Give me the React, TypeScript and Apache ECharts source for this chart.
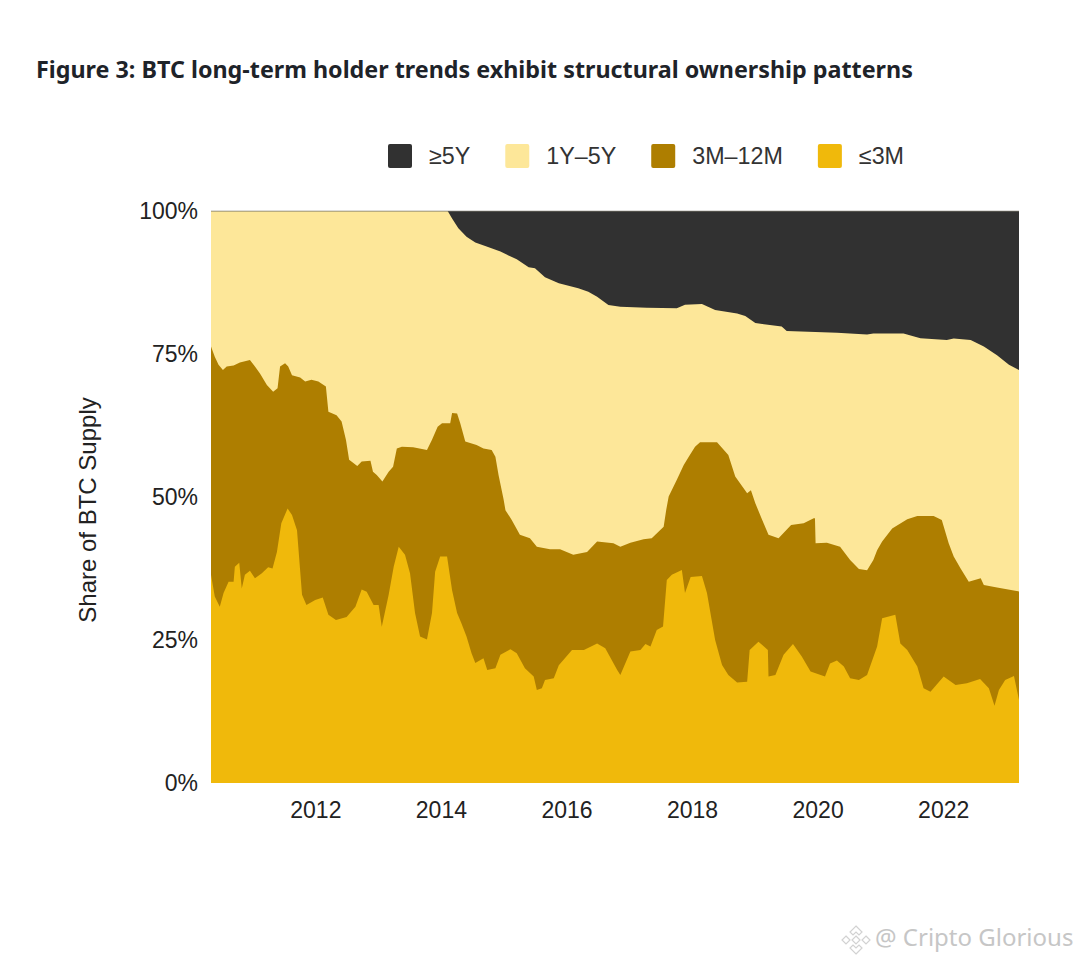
import React, { useEffect, useRef } from "react";
import * as echarts from "echarts";

const titleText = "Figure 3: BTC long-term holder trends exhibit structural ownership patterns";
const watermarkText = "@ Cripto Glorious";
const yAxisName = "Share of BTC Supply";
const seriesNames = ["≥5Y", "1Y–5Y", "3M–12M", "≤3M"];
const seriesColors = ["#313131", "#FDE799", "#AE7E00", "#F0B90B"];
const yearTicks = [2012, 2014, 2016, 2018, 2020, 2022];
const startYear = 2010.33;
const endYear = 2023.2;

// Cumulative top edge of each band: [year, % of supply]
const topOver5Y: number[][] = [[2010.33, 100], [2023.2, 100]];

const top1Y5Y: number[][] = [
  [2010.33, 100], [2014.1, 100], [2014.17, 98.7], [2014.27, 97.0], [2014.4, 95.5], [2014.54, 94.5],
  [2014.72, 93.8], [2014.94, 92.9], [2015.2, 91.55], [2015.39, 90.15], [2015.49, 90.0], [2015.65, 88.4],
  [2015.87, 87.35], [2016.18, 86.5], [2016.34, 85.9], [2016.48, 85.0], [2016.66, 83.55], [2016.85, 83.25],
  [2017.27, 83.1], [2017.75, 83.0], [2017.88, 83.6], [2018.15, 83.75], [2018.36, 82.7], [2018.71, 82.1],
  [2018.84, 81.65], [2019.0, 80.4], [2019.42, 79.8], [2019.5, 79.0], [2020.3, 78.7], [2020.78, 78.4],
  [2020.88, 78.6], [2021.36, 78.6], [2021.63, 77.75], [2022.05, 77.45], [2022.16, 77.7], [2022.43, 77.45],
  [2022.64, 76.3], [2022.85, 74.8], [2023.04, 73.1], [2023.2, 72.2],
];

const top3M12M: number[][] = [
  [2010.33, 76.3], [2010.39, 74.5], [2010.45, 73.1], [2010.52, 72.2], [2010.58, 72.8], [2010.69, 73.0],
  [2010.79, 73.5], [2010.95, 73.95], [2011.03, 72.8], [2011.11, 71.6], [2011.22, 69.6], [2011.32, 68.4],
  [2011.39, 69.0], [2011.43, 72.8], [2011.51, 73.4], [2011.56, 72.8], [2011.62, 71.3], [2011.75, 70.9],
  [2011.83, 70.2], [2011.93, 70.5], [2012.04, 70.2], [2012.16, 69.3], [2012.2, 64.9], [2012.33, 64.3],
  [2012.41, 63.2], [2012.48, 59.95], [2012.53, 56.5], [2012.66, 55.4], [2012.73, 56.2], [2012.87, 56.35],
  [2012.91, 54.4], [2012.97, 53.85], [2013.06, 52.7], [2013.16, 54.4], [2013.23, 55.3], [2013.29, 58.5],
  [2013.37, 58.8], [2013.55, 58.7], [2013.77, 58.2], [2013.85, 60.0], [2013.94, 62.3], [2014.01, 62.9],
  [2014.14, 62.9], [2014.17, 64.7], [2014.25, 64.6], [2014.3, 62.9], [2014.38, 59.7], [2014.56, 59.1],
  [2014.67, 58.5], [2014.8, 58.2], [2014.86, 57.05], [2014.91, 53.85], [2014.99, 49.6], [2015.02, 47.7],
  [2015.12, 46.0], [2015.25, 43.4], [2015.41, 42.8], [2015.52, 41.3], [2015.73, 40.85], [2015.89, 40.85],
  [2016.1, 39.9], [2016.32, 40.4], [2016.48, 42.2], [2016.74, 41.9], [2016.85, 41.3], [2017.01, 42.0],
  [2017.22, 42.6], [2017.35, 42.8], [2017.54, 44.8], [2017.58, 47.7], [2017.62, 50.1], [2017.75, 53.0],
  [2017.86, 55.6], [2017.94, 57.05], [2018.04, 58.8], [2018.12, 59.56], [2018.39, 59.56], [2018.57, 57.35],
  [2018.68, 53.6], [2018.87, 50.65], [2018.93, 51.2], [2019.0, 48.9], [2019.11, 46.0], [2019.21, 43.4],
  [2019.37, 42.8], [2019.57, 45.1], [2019.77, 45.4], [2019.93, 46.3], [2019.95, 46.3], [2019.96, 41.9],
  [2020.14, 42.0], [2020.35, 41.3], [2020.51, 39.0], [2020.65, 37.4], [2020.78, 37.2], [2020.88, 39.0],
  [2020.94, 40.7], [2021.02, 42.2], [2021.18, 44.5], [2021.42, 46.1], [2021.58, 46.7], [2021.84, 46.7],
  [2021.97, 46.0], [2022.08, 41.9], [2022.16, 39.6], [2022.27, 37.5], [2022.4, 35.2], [2022.59, 35.8],
  [2022.64, 34.6], [2022.85, 34.2], [2023.2, 33.5],
];

const top3M: number[][] = [
  [2010.33, 36.4], [2010.39, 32.6], [2010.47, 30.8], [2010.53, 33.2], [2010.61, 35.2], [2010.69, 35.2],
  [2010.71, 37.8], [2010.78, 38.5], [2010.82, 34.0], [2010.87, 36.4], [2010.95, 37.1], [2011.03, 35.8],
  [2011.14, 36.65], [2011.24, 37.7], [2011.31, 37.5], [2011.38, 40.4], [2011.45, 45.4], [2011.55, 48.0],
  [2011.62, 46.85], [2011.7, 44.2], [2011.78, 32.9], [2011.85, 31.1], [2011.99, 32.0], [2012.11, 32.45],
  [2012.2, 29.4], [2012.32, 28.5], [2012.49, 29.0], [2012.63, 30.8], [2012.73, 33.85], [2012.81, 33.45],
  [2012.92, 31.1], [2013.0, 31.1], [2013.05, 27.3], [2013.16, 32.9], [2013.24, 37.8], [2013.32, 41.3],
  [2013.42, 39.9], [2013.5, 36.65], [2013.58, 29.7], [2013.66, 25.6], [2013.77, 25.1], [2013.85, 29.7],
  [2013.9, 36.95], [2013.98, 39.6], [2014.09, 39.6], [2014.17, 33.7], [2014.25, 29.7], [2014.32, 27.9],
  [2014.4, 25.6], [2014.48, 22.7], [2014.54, 21.0], [2014.67, 21.8], [2014.73, 19.75], [2014.86, 20.05],
  [2014.94, 22.4], [2015.1, 23.4], [2015.2, 22.7], [2015.33, 20.05], [2015.47, 18.6], [2015.52, 16.25],
  [2015.6, 16.55], [2015.65, 18.0], [2015.79, 18.3], [2015.87, 20.6], [2016.08, 23.25], [2016.27, 23.25],
  [2016.48, 24.4], [2016.61, 23.55], [2016.8, 19.75], [2016.85, 18.9], [2017.01, 23.0], [2017.17, 23.25],
  [2017.25, 24.3], [2017.33, 23.85], [2017.43, 26.75], [2017.53, 27.35], [2017.59, 35.5], [2017.67, 36.4],
  [2017.83, 37.25], [2017.88, 33.2], [2017.97, 36.0], [2018.15, 36.2], [2018.23, 33.2], [2018.36, 25.0],
  [2018.47, 20.65], [2018.57, 18.9], [2018.71, 17.55], [2018.87, 17.7], [2018.91, 23.25], [2019.05, 24.7],
  [2019.2, 23.25], [2019.21, 18.6], [2019.32, 18.9], [2019.45, 22.4], [2019.6, 24.3], [2019.74, 22.1],
  [2019.88, 19.5], [2020.11, 18.6], [2020.19, 20.9], [2020.3, 21.4], [2020.41, 20.35], [2020.51, 18.3],
  [2020.65, 18.0], [2020.78, 18.9], [2020.94, 23.85], [2021.02, 28.8], [2021.23, 29.4], [2021.31, 24.4],
  [2021.42, 23.25], [2021.58, 20.35], [2021.68, 16.55], [2021.79, 15.95], [2022.0, 18.6], [2022.19, 17.15],
  [2022.37, 17.45], [2022.58, 18.2], [2022.72, 16.55], [2022.81, 13.5], [2022.88, 16.25], [2022.98, 18.0],
  [2023.12, 18.7], [2023.2, 14.5],
];

const seriesTops = [topOver5Y, top1Y5Y, top3M12M, top3M];

const logoPieces: number[][][] = [
  [[856, 926], [862, 932], [859, 935], [856, 932], [853, 935], [850, 932]],
  [[856, 954], [862, 948], [859, 945], [856, 948], [853, 945], [850, 948]],
  [[856, 936], [860, 940], [856, 944], [852, 940]],
  [[846, 936], [850, 940], [846, 944], [842, 940]],
  [[866, 936], [870, 940], [866, 944], [862, 940]],
];

const legendIcon =
  "path://M2,0H22A2,2 0 0 1 24,2V22A2,2 0 0 1 22,24H2A2,2 0 0 1 0,22V2A2,2 0 0 1 2,0Z";

export default function App() {
  const ref = useRef<HTMLDivElement>(null);

  useEffect(() => {
    if (!ref.current) return;
    document.body.style.margin = "0";
    const chart = echarts.init(ref.current, undefined, { renderer: "svg" });
    const sans = "'Liberation Sans', Arial, sans-serif";
    chart.setOption({
      animation: false,
      backgroundColor: "#ffffff",
      grid: { left: 211, top: 211, width: 808, height: 572, containLabel: false },
      title: {
        text: titleText,
        left: 31,
        top: 52,
        textStyle: { fontFamily: "'Noto Sans', sans-serif", fontWeight: 700, fontSize: 23.3, color: "#1E2329" },
      },
      legend: {
        data: seriesNames.map((name) => ({ name, icon: legendIcon })),
        left: 383,
        top: 139,
        itemWidth: 24,
        itemHeight: 24,
        itemGap: 35,
        selectedMode: false,
        textStyle: { fontFamily: sans, fontSize: 23.3, color: "#333333", padding: [0, 0, 0, 12] },
      },
      xAxis: {
        type: "value",
        min: startYear,
        max: endYear,
        axisLine: { show: false },
        axisTick: { show: false },
        splitLine: { show: false },
        axisLabel: {
          customValues: yearTicks,
          formatter: (v: number) => String(Math.round(v)),
          fontFamily: sans,
          fontSize: 23,
          color: "#222222",
          margin: 15,
        },
      },
      yAxis: {
        type: "value",
        min: 0,
        max: 100,
        interval: 25,
        name: yAxisName,
        nameLocation: "middle",
        nameGap: 112,
        nameRotate: 90,
        nameTextStyle: { fontFamily: sans, fontSize: 24, color: "#222222", padding: [0, 26, 0, 0] },
        axisLine: { show: false },
        axisTick: { show: false },
        splitLine: { show: false },
        axisLabel: {
          formatter: "{value}%",
          fontFamily: sans,
          fontSize: 23,
          color: "#222222",
          margin: 13,
        },
      },
      series: [
        ...seriesNames.map((name, i) => ({
          name,
          type: "line",
          data: seriesTops[i],
          showSymbol: false,
          smooth: false,
          lineStyle: { width: 0 },
          itemStyle: { color: seriesColors[i] },
          areaStyle: { color: seriesColors[i], opacity: 1 },
          z: 2 + i,
          silent: true,
        })),
        {
          name: "edge",
          type: "line",
          data: topOver5Y,
          showSymbol: false,
          lineStyle: { width: 1, color: "#777468" },
          z: 8,
          silent: true,
        },
      ],
      graphic: [
        {
          type: "text",
          left: 875,
          top: 924,
          style: {
            text: watermarkText,
            fontFamily: "'Noto Sans', sans-serif",
            fontSize: 24,
            fill: "#c6c6c6",
          },
        },
        ...logoPieces.map((points) => ({
          type: "polygon",
          shape: { points },
          style: { fill: "#ffffff", stroke: "#d2d2d2", lineWidth: 1.2 },
        })),
      ],
    });
    return () => chart.dispose();
  }, []);

  return (
    <div
      ref={ref}
      style={{ position: "fixed", left: 0, top: 0, width: 1080, height: 965, background: "#fff" }}
    />
  );
}
